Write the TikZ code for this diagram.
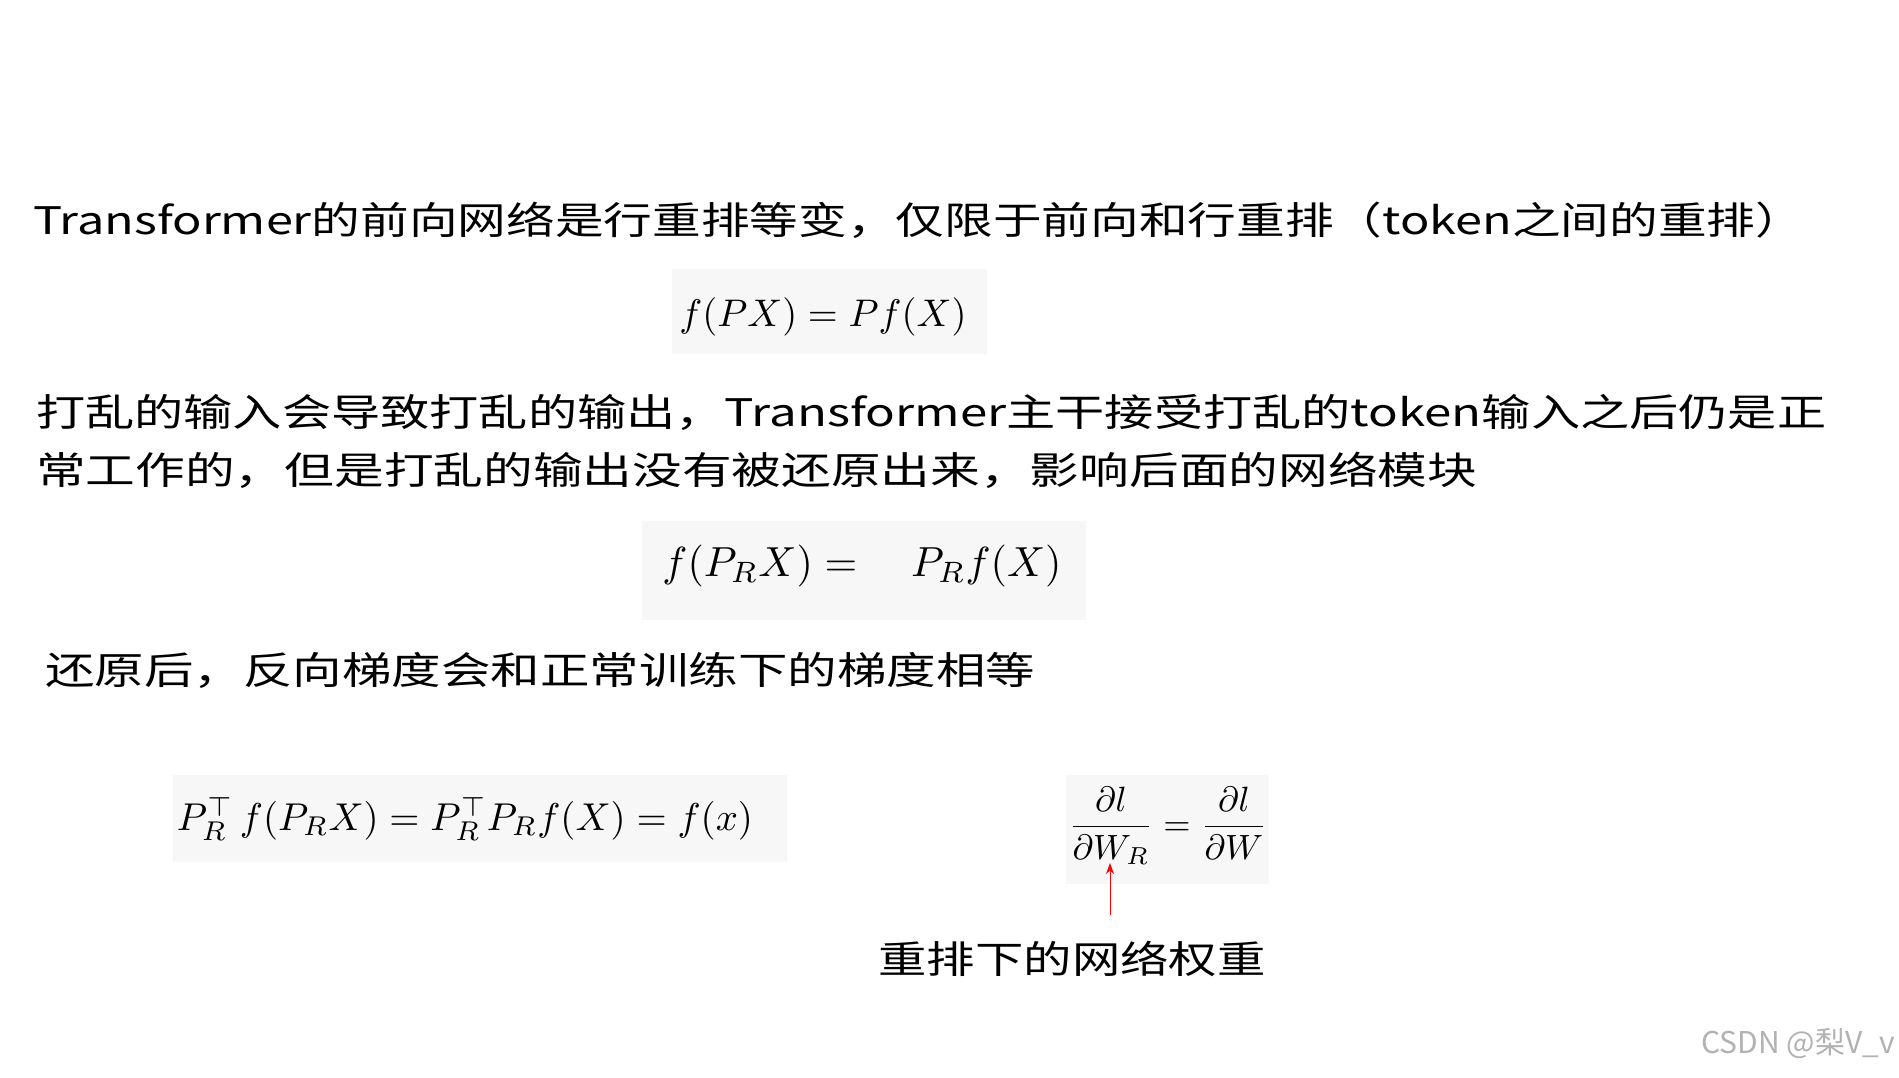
\documentclass[tikz,border=0pt]{standalone}
\usepackage{amsmath}
\usepackage{graphicx}
\usepackage{fontspec}
\usetikzlibrary{arrows.meta}
\setmainfont{Noto Sans CJK SC}
\newfontfamily\cjk{Noto Sans CJK SC}
\begin{document}
\begin{tikzpicture}[x=1pt,y=-1pt,
  txt/.style={anchor=west,inner sep=0pt,font=\fontsize{38}{46}\selectfont\cjk},
  eqbg/.style={fill=gray!6,draw=none},
  eq/.style={inner sep=0pt}]
\useasboundingbox (0,0) rectangle (1899,1077);
\fill[white] (0,0) rectangle (1899,1077);
\node[txt] (l1) at (33,220) {\resizebox{1771pt}{\height}{Transformer的前向网络是行重排等变，仅限于前向和行重排（token之间的重排）}};
\fill[eqbg] (672,269) rectangle (987,354);
\node[eq] (e1) at (823,317) {\resizebox{287pt}{!}{$f(PX)=Pf(X)$}};
\node[txt] (l2) at (36,412) {\resizebox{1790pt}{\height}{打乱的输入会导致打乱的输出，Transformer主干接受打乱的token输入之后仍是正}};
\node[txt] (l3) at (36,470) {\resizebox{1441pt}{\height}{常工作的，但是打乱的输出没有被还原出来，影响后面的网络模块}};
\fill[eqbg] (642,521) rectangle (1086,620);
\node[eq] (e2) at (862,566) {\resizebox{399pt}{!}{$f(P_RX)=\quad P_Rf(X)$}};
\node[txt] (l4) at (45,670) {\resizebox{990pt}{\height}{还原后，反向梯度会和正常训练下的梯度相等}};
\fill[eqbg] (173,775) rectangle (787,862);
\node[eq] (e3) at (465,819) {\resizebox{576pt}{!}{$P_R^\top\, f(P_RX)=P_R^\top P_Rf(X)=f(x)$}};
\fill[eqbg] (1066,775) rectangle (1269,884);
\node[eq] (e4) at (1168,826) {\resizebox{199pt}{!}{$\dfrac{\partial l}{\partial W_R}=\dfrac{\partial l}{\partial W}$}};
\node[txt,anchor=center] (lab) at (1072,959) {\resizebox{387pt}{\height}{重排下的网络权重}};
\coordinate (ta) at (1110,863);
\coordinate (tb) at (1110,915);
\draw[red,-{Stealth[length=11pt,width=8pt]},line width=1pt] (tb) -- (ta);
\node[anchor=east,inner sep=0pt,text=gray!60,font=\fontsize{30}{34}\selectfont] (wm) at (1895,1044) {CSDN @梨V\_v};
\end{tikzpicture}
\end{document}
